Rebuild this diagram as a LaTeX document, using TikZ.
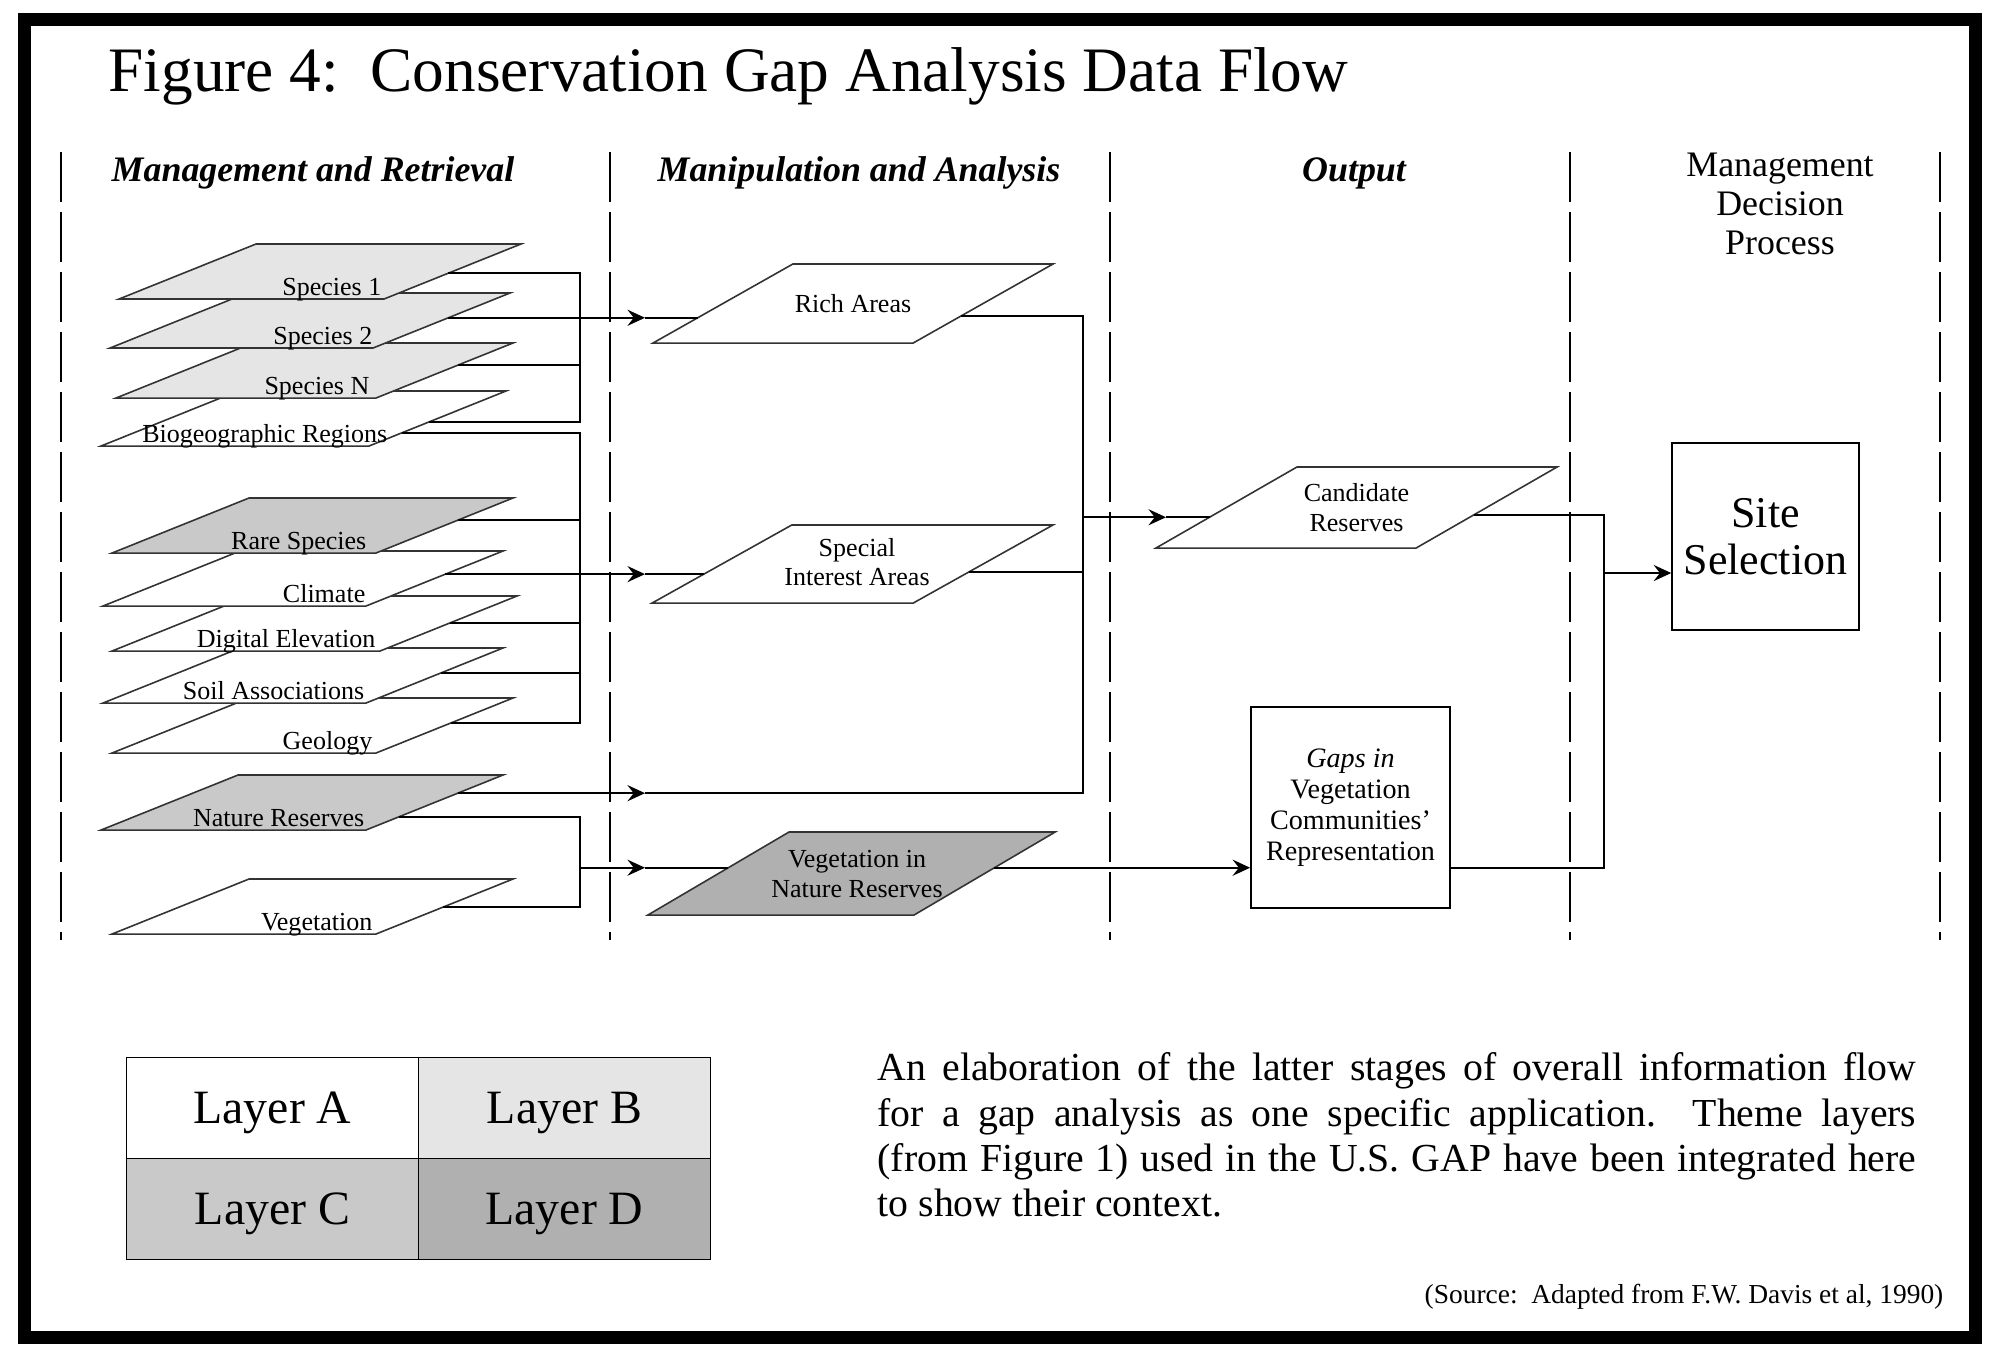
\documentclass[tikz,border=0pt]{standalone}
\usepackage{fontspec}
\setmainfont{Liberation Serif}
\usetikzlibrary{arrows.meta, calc}
\colorlet{layB}{black!10}
\colorlet{layC}{black!21}
\colorlet{layD}{black!31}
\newcommand{\titlefont}{\fontsize{18pt}{21pt}\selectfont}
\newcommand{\hdrfont}{\fontsize{10.2pt}{11.2pt}\selectfont\bfseries\itshape}
\newcommand{\mdpfont}{\fontsize{10.2pt}{11.2pt}\selectfont}
\newcommand{\lblfont}{\fontsize{7.4pt}{8.4pt}\selectfont}
\newcommand{\gapfont}{\fontsize{8pt}{8.8pt}\selectfont}
\newcommand{\sitefont}{\fontsize{12.5pt}{13.4pt}\selectfont}
\newcommand{\legfont}{\fontsize{13.6pt}{15pt}\selectfont}
\newcommand{\parafont}{\fontsize{11.3pt}{12.9pt}\selectfont}
\newcommand{\srcfont}{\fontsize{7.8pt}{9pt}\selectfont}

\begin{document}
\begin{tikzpicture}[x=0.01cm, y=-0.01cm, >={Stealth[length=5pt, width=4.6pt, inset=1.8pt]},
    layer/.style={draw=black!80, line width=0.45pt, inner sep=0pt, outer sep=0pt, xslant=2.49, minimum height=0.55cm},
    dataset/.style={draw=black!80, line width=0.45pt, inner sep=0pt, outer sep=0pt},
    lbl/.style={inner sep=0pt, font=\lblfont},
    hdr/.style={inner sep=0pt, font=\hdrfont, anchor=base},
    conn/.style={line width=0.45pt},
    colsep/.style={line width=0.6pt, dash pattern=on 0.5cm off 0.1cm},
    legcell/.style={draw, line width=0.5pt, minimum width=2.92cm, minimum height=1.01cm, text depth=0pt, font=\legfont}]

    \useasboundingbox (0,0) rectangle (1992,1353);
    \draw[line width=3.7pt] (24.5,19) rectangle (1975,1337);

    % Title and column heads
    \node[inner sep=0pt, anchor=base west, font=\titlefont] (title) at (108,91) {Figure 4:\ \ Conservation Gap Analysis Data Flow};
    \node[hdr] (hmr) at (313,181) {Management and Retrieval};
    \node[hdr] (hma) at (859,181) {Manipulation and Analysis};
    \node[hdr] (hout) at (1354,181) {Output};
    \node[inner sep=0pt, anchor=north, align=center, font=\mdpfont] (hmdp) at (1780,152) {Management\\Decision\\Process};

    \foreach \x in {61,610,1110,1570,1940}
        \draw[colsep] (\x,152) -- (\x,940);

    % Theme layers, bottom one first
    \foreach \nm/\blx/\by/\w/\fl/\txt/\lx in {
        veg/112/934/264/white/Vegetation/373,
        nat/101/830/265/layC/Nature Reserves/365,
        geo/112/753/264/white/Geology/373,
        soil/103/703/263/white/Soil Associations/365,
        dem/112/651/268/white/Digital Elevation/376,
        clim/103/606/263/white/Climate/366,
        rare/112/553/264/layC/Rare Species/367,
        bio/101/446/268/white/Biogeographic Regions/388,
        spn/116/398/260/layB/Species N/370,
        sp2/110/348/263/layB/Species 2/373,
        sp1/119/299/265/layB/Species 1/382} {
        \node[layer, fill=\fl, minimum width=\w*0.01cm] (\nm) at ({\blx+(\w+137)/2}, {\by-27.5}) {};
        \node[lbl, anchor=base east] (\nm-t) at (\lx, {\by-4}) {\txt};
    }
    \foreach \nm/\pos in {sp1/.47, sp2/.55, spn/.6, bio/.44, rare/.6, clim/.58, dem/.51, soil/.55, geo/.55, nat/.67, veg/.49}
        \coordinate (\nm-o) at ($(\nm.south east)!\pos!(\nm.north east)$);
    \coordinate (bio-p) at ($(bio.south east)!.24!(bio.north east)$);
    \coordinate (nat-p) at ($(nat.south east)!.24!(nat.north east)$);

    % Derived data sets
    \node[dataset, xslant=1.77, minimum width=2.6cm, minimum height=0.79cm] (rich) at (853,303.5) {};
    \node[lbl] (rich-t) at (rich) {Rich Areas};
    \node[dataset, xslant=1.79, minimum width=2.61cm, minimum height=0.78cm] (spec) at (852.5,564) {};
    \node[lbl, align=center] (spec-t) at (857,562) {Special\\Interest Areas};
    \node[dataset, fill=layD, xslant=1.70, minimum width=2.66cm, minimum height=0.83cm] (vnr) at (851.5,873.5) {};
    \node[lbl, align=center] (vnr-t) at (857,874) {Vegetation in\\Nature Reserves};
    \node[dataset, xslant=1.74, minimum width=2.6cm, minimum height=0.81cm] (cand) at (1356.5,507.5) {};
    \node[lbl, align=center] (cand-t) at (cand) {Candidate\\Reserves};
    \node[draw, line width=0.45pt, minimum width=1.99cm, minimum height=2.01cm, align=center, font=\gapfont] (gaps) at (1350.5,807.5) {\textit{Gaps in}\\Vegetation\\Communities'\\Representation};
    \node[draw, line width=0.45pt, minimum width=1.85cm, minimum height=1.87cm, align=center, font=\sitefont] (site) at (1765.5,536.5) {Site\\Selection};

    \coordinate (rich-i) at ($(rich.south west)!.32!(rich.north west)$);
    \coordinate (rich-o) at ($(rich.south east)!.34!(rich.north east)$);
    \coordinate (spec-i) at ($(spec.south west)!.37!(spec.north west)$);
    \coordinate (spec-o) at ($(spec.south east)!.4!(spec.north east)$);
    \coordinate (vnr-i) at ($(vnr.south west)!.57!(vnr.north west)$);
    \coordinate (vnr-o) at ($(vnr.south east)!.57!(vnr.north east)$);
    \coordinate (cand-i) at ($(cand.south west)!.38!(cand.north west)$);
    \coordinate (cand-o) at ($(cand.south east)!.41!(cand.north east)$);

    \coordinate (busA) at (580,0);
    \coordinate (busB) at (1083,0);
    \coordinate (busC) at (1604,0);
    \coordinate (tipA) at (645,0);
    \coordinate (tipB) at (1166,0);
    \coordinate (siteJ) at (1604,573);

    % Species group
    \draw[conn] (sp1-o) -- (sp1-o -| busA) -- (bio-o -| busA) -- (bio-o);
    \draw[conn] (spn-o) -- (spn-o -| busA);
    \draw[conn, ->] (sp2-o) -- (sp2-o -| tipA);
    \draw[conn] (sp2-o -| tipA) -- (sp2-o -| rich-i);

    % Environment group
    \draw[conn] (bio-p) -- (bio-p -| busA) -- (geo-o -| busA) -- (geo-o);
    \foreach \nm in {rare, dem, soil}
        \draw[conn] (\nm-o) -- (\nm-o -| busA);
    \draw[conn, ->] (clim-o) -- (clim-o -| tipA);
    \draw[conn] (clim-o -| tipA) -- (clim-o -| spec-i);

    % Reserves group
    \draw[conn] (nat-p) -- (nat-p -| busA) -- (veg-o -| busA) -- (veg-o);
    \draw[conn, ->] (vnr-i -| busA) -- (vnr-i -| tipA);
    \draw[conn] (vnr-i -| tipA) -- (vnr-i);
    \draw[conn, ->] (nat-o) -- (nat-o -| tipA);
    \draw[conn] (nat-o -| tipA) -- (nat-o -| busB) -- (rich-o -| busB) -- (rich-o);
    \draw[conn] (spec-o) -- (spec-o -| busB);

    % Output to decision
    \draw[conn, ->] (cand-i -| busB) -- (cand-i -| tipB);
    \draw[conn] (cand-i -| tipB) -- (cand-i);
    \draw[conn, ->] (vnr-o) -- (vnr-o -| gaps.west);
    \draw[conn] (cand-o) -- (cand-o -| busC) -- (vnr-o -| busC) -- (vnr-o -| gaps.east);
    \draw[conn, ->] (siteJ) -- (siteJ -| site.west);

    % Legend
    \node[legcell, fill=white] (laya) at (272.5,1108) {Layer A};
    \node[legcell, fill=layB] (layb) at (564.5,1108) {Layer B};
    \node[legcell, fill=layC] (layc) at (272.5,1209) {Layer C};
    \node[legcell, fill=layD] (layd) at (564.5,1209) {Layer D};

    \node[anchor=north west, inner sep=0pt, text width=10.38cm, align=justify, font=\parafont] (blurb) at (877,1052)
        {An elaboration of the latter stages of overall information flow\linebreak
         for a gap analysis as one specific application.\ \ Theme layers\linebreak
         (from Figure 1) used in the U.S. GAP have been integrated here\linebreak
         to show their context.};
    \node[anchor=base east, inner sep=0pt, font=\srcfont] (src) at (1944,1303) {(Source:\ \ Adapted from F.W. Davis et al, 1990)};

\end{tikzpicture}
\end{document}
